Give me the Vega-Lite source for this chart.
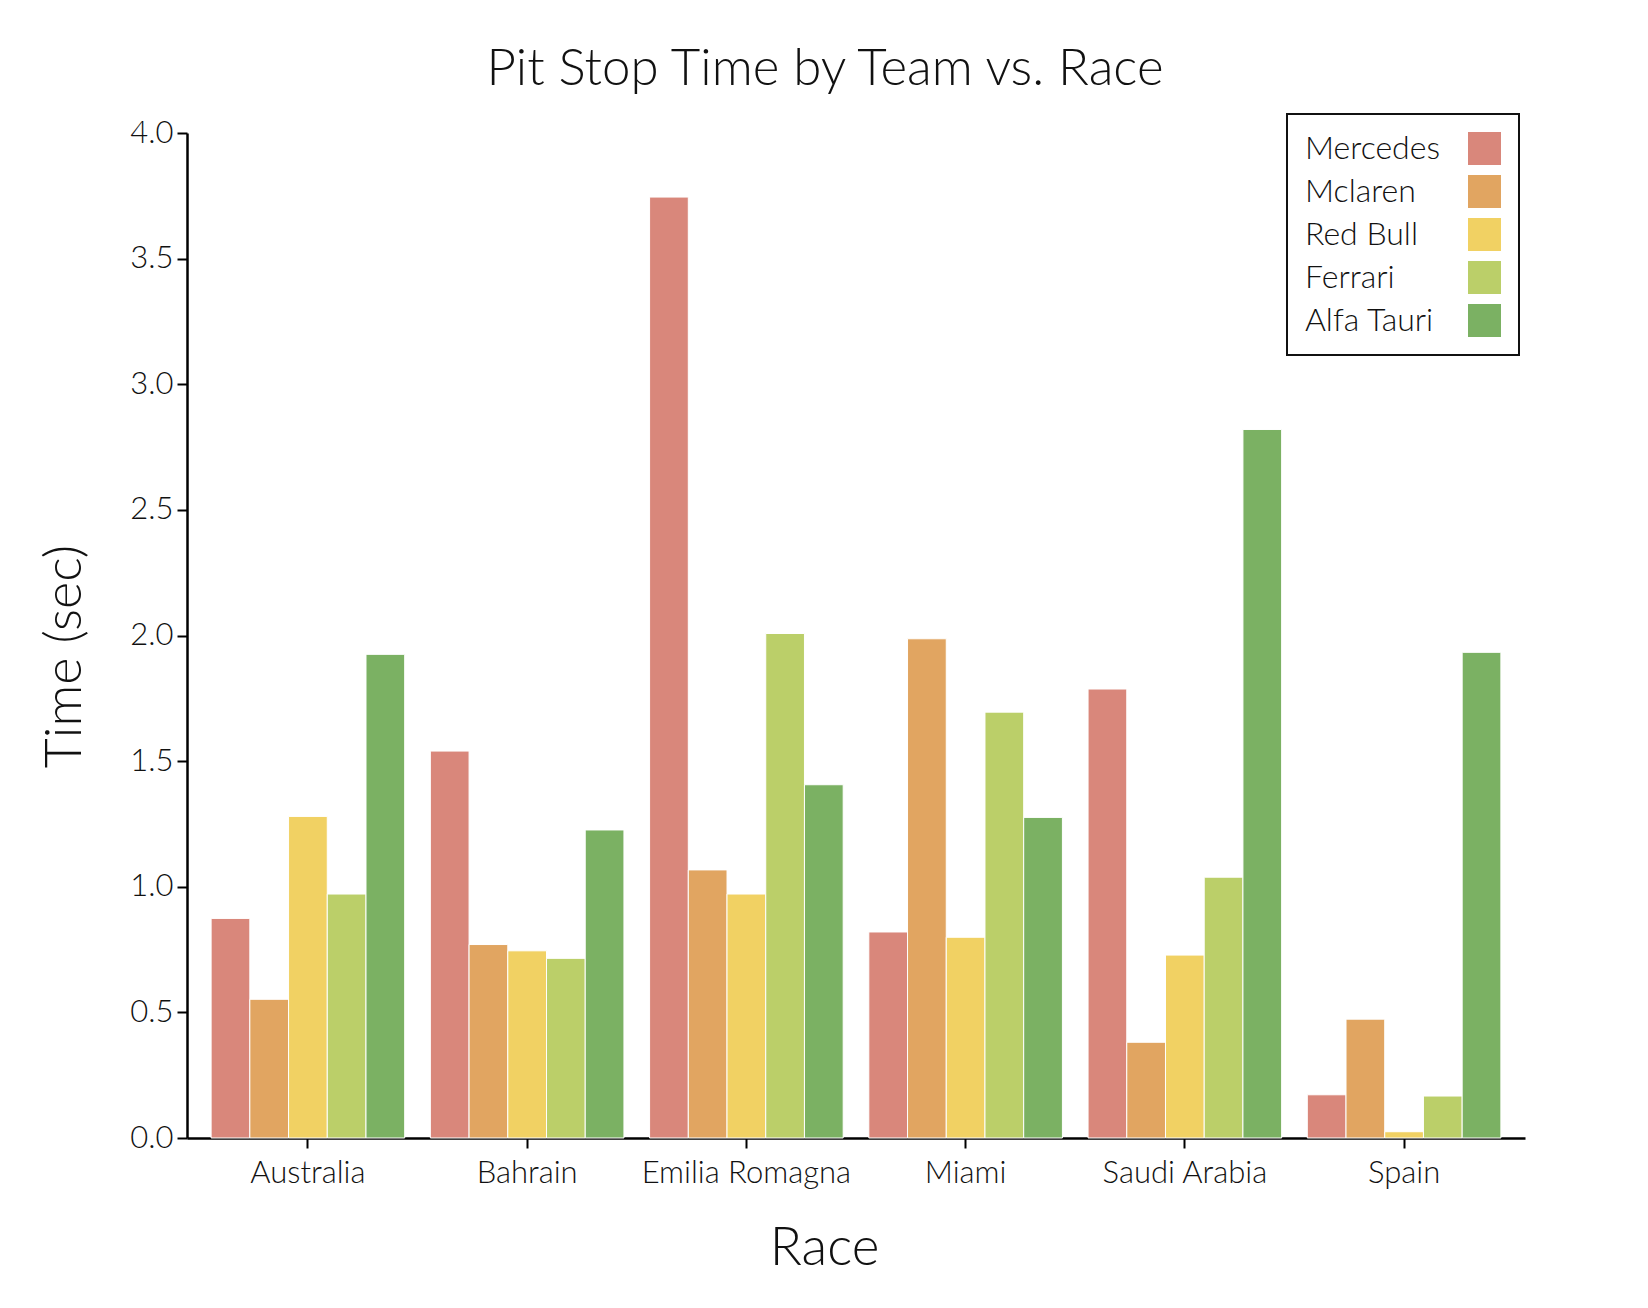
{
  "$schema": "https://vega.github.io/schema/vega-lite/v6.json",
  "description": "Pit stop time by team vs race",
  "width": 1338,
  "height": 1005,
  "autosize": {"type": "none"},
  "padding": {"left": 187, "top": 133, "right": 123, "bottom": 170},
  "background": "white",
  "config": {
    "font": "Lato",
    "view": {"stroke": null},
    "axis": {"labelFont": "Lato", "titleFont": "Lato", "labelFontWeight": 300, "titleFontWeight": 300,
      "labelColor": "#111", "titleColor": "#111", "domainColor": "#000", "tickColor": "#000",
      "domainWidth": 2.5, "tickWidth": 2, "tickSize": 10, "grid": false},
    "legend": {"labelFont": "Lato", "labelFontWeight": 300, "strokeWidth": 2}
  },
  "title": {"text": "Pit Stop Time by Team vs. Race", "fontSize": 51, "fontWeight": 300, "font": "Lato",
    "color": "#111", "anchor": "middle", "dx": -31, "offset": -23, "baseline": "alphabetic"},
  "data": {"values": [
    {"Race": "Australia", "Team": "Mercedes", "Time": 0.874},
    {"Race": "Australia", "Team": "Mclaren", "Time": 0.552},
    {"Race": "Australia", "Team": "Red Bull", "Time": 1.28},
    {"Race": "Australia", "Team": "Ferrari", "Time": 0.971},
    {"Race": "Australia", "Team": "Alfa Tauri", "Time": 1.925},
    {"Race": "Bahrain", "Team": "Mercedes", "Time": 1.54},
    {"Race": "Bahrain", "Team": "Mclaren", "Time": 0.77},
    {"Race": "Bahrain", "Team": "Red Bull", "Time": 0.745},
    {"Race": "Bahrain", "Team": "Ferrari", "Time": 0.715},
    {"Race": "Bahrain", "Team": "Alfa Tauri", "Time": 1.226},
    {"Race": "Emilia Romagna", "Team": "Mercedes", "Time": 3.745},
    {"Race": "Emilia Romagna", "Team": "Mclaren", "Time": 1.067},
    {"Race": "Emilia Romagna", "Team": "Red Bull", "Time": 0.971},
    {"Race": "Emilia Romagna", "Team": "Ferrari", "Time": 2.008},
    {"Race": "Emilia Romagna", "Team": "Alfa Tauri", "Time": 1.406},
    {"Race": "Miami", "Team": "Mercedes", "Time": 0.82},
    {"Race": "Miami", "Team": "Mclaren", "Time": 1.987},
    {"Race": "Miami", "Team": "Red Bull", "Time": 0.799},
    {"Race": "Miami", "Team": "Ferrari", "Time": 1.695},
    {"Race": "Miami", "Team": "Alfa Tauri", "Time": 1.276},
    {"Race": "Saudi Arabia", "Team": "Mercedes", "Time": 1.787},
    {"Race": "Saudi Arabia", "Team": "Mclaren", "Time": 0.381},
    {"Race": "Saudi Arabia", "Team": "Red Bull", "Time": 0.728},
    {"Race": "Saudi Arabia", "Team": "Ferrari", "Time": 1.038},
    {"Race": "Saudi Arabia", "Team": "Alfa Tauri", "Time": 2.82},
    {"Race": "Spain", "Team": "Mercedes", "Time": 0.172},
    {"Race": "Spain", "Team": "Mclaren", "Time": 0.473},
    {"Race": "Spain", "Team": "Red Bull", "Time": 0.025},
    {"Race": "Spain", "Team": "Ferrari", "Time": 0.167},
    {"Race": "Spain", "Team": "Alfa Tauri", "Time": 1.933}
  ]},
  "mark": {"type": "bar", "stroke": "white", "strokeWidth": 1, "opacity": 1},
  "encoding": {
    "x": {"field": "Race", "type": "nominal", "sort": null,
      "scale": {"paddingInner": 0.117, "paddingOuter": 0.11},
      "axis": {"labelAngle": 0, "labelFontSize": 31, "labelPadding": 10, "labelLimit": 400, "title": "Race",
        "titleFontSize": 53, "titleX": 637, "titleY": 126, "titleAlign": "center", "titleBaseline": "alphabetic"}},
    "xOffset": {"field": "Team", "type": "nominal",
      "sort": ["Mercedes", "Mclaren", "Red Bull", "Ferrari", "Alfa Tauri"]},
    "y": {"field": "Time", "type": "quantitative",
      "scale": {"domain": [0, 4], "nice": false},
      "axis": {"values": [0, 0.5, 1, 1.5, 2, 2.5, 3, 3.5, 4], "format": ".1f", "labelFontSize": 31,
        "labelPadding": 4, "title": "Time (sec)", "titleFontSize": 52, "titleAngle": 270,
        "titleX": -123, "titleY": 523, "titleAlign": "center", "titleBaseline": "middle"}},
    "color": {"field": "Team", "type": "nominal",
      "scale": {"domain": ["Mercedes", "Mclaren", "Red Bull", "Ferrari", "Alfa Tauri"],
        "range": ["#d9877b", "#e1a561", "#f1d163", "#bbcf69", "#7bb163"]},
      "legend": {"title": null, "orient": "none", "legendX": 1100, "legendY": -19,
        "padding": 18, "strokeColor": "#111", "fillColor": "white", "cornerRadius": 0,
        "symbolType": "square", "symbolSize": 1089, "symbolStrokeWidth": 0, "symbolOpacity": 1,
        "symbolOffset": 163, "labelOffset": -196, "labelFontSize": 32, "labelColor": "#111",
        "rowPadding": 10, "labelLimit": 200}}
  }
}
